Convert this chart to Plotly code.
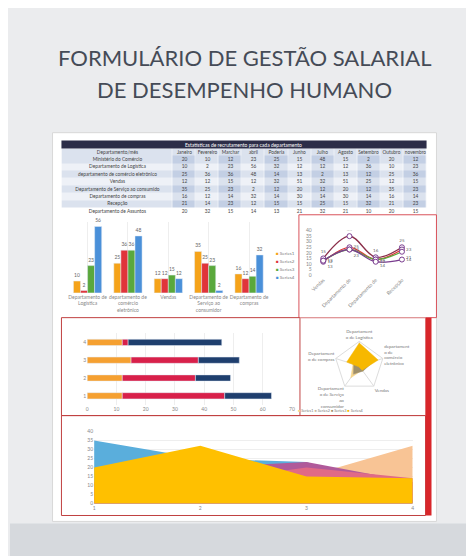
import plotly.graph_objects as go

W, H = 474, 556

def fx(px):
    return px / W

def fy(py):
    return 1 - py / H

# ---------------- data ----------------
months = ["Janeiro", "Fevereiro", "Marchar", "abril", "Poderia", "Junho", "Julho",
          "Agosto", "Setembro", "Outubro", "novembro"]
departments = ["Ministério do Comércio", "Departamento de Logística",
               "departamento de comércio eletrônico", "Vendas",
               "Departamento de Serviço ao consumido", "Departamento de compras",
               "Recepção", "Departamento de Assuntos"]
table_values = [
    [20, 10, 12, 23, 25, 15, 48, 15, 2, 20, 12],
    [10, 2, 23, 56, 32, 12, 12, 12, 36, 10, 23],
    [25, 36, 36, 48, 14, 13, 2, 13, 12, 25, 36],
    [12, 12, 15, 12, 32, 51, 32, 51, 25, 12, 15],
    [35, 25, 23, 2, 12, 20, 12, 20, 12, 35, 23],
    [16, 12, 14, 32, 14, 30, 14, 30, 14, 16, 14],
    [21, 14, 23, 12, 15, 15, 25, 15, 32, 21, 23],
    [20, 32, 15, 14, 13, 21, 32, 21, 10, 20, 15],
]

bar_cats = ["Departamento de<br>Logística", "departamento de<br>comércio<br>eletrônico",
            "Vendas", "Departamento de<br>Serviço ao<br>consumidor", "Departamento de<br>compras"]
bar_series = {
    "Series1": [10, 25, 12, 35, 16],
    "Series2": [2, 36, 12, 25, 12],
    "Series3": [23, 36, 15, 23, 14],
    "Series4": [56, 48, 12, 2, 32],
}
bar_colors = ["#f5a31a", "#e0343a", "#5aa83c", "#4a90d9"]

line_cats = ["Vendas", "Departamento de", "Departamento de", "Recepção"]
line_series = [
    ([15, 35, 16, 25], "#8b2f4a", "top center"),
    ([12, 25, 14, 23], "#e0343a", "middle right"),
    ([13, 23, 14, 21], "#5aa83c", "bottom right"),
    ([13, 23, 12, 14], "#7a3d8f", "middle right"),
]

hbar_cats = ["1", "2", "3", "4"]
hbar_series = [
    ([12, 12, 15, 12], "#f5a031"),
    ([35, 25, 23, 2], "#d8204a"),
    ([16, 12, 14, 32], "#1f3f6e"),
]

radar_cats = ["Departament<br>o de Logística", "departament<br>o de<br>comércio<br>eletrônico",
              "Vendas", "Departament<br>o de Serviço<br>ao<br>consumidor", "Departament<br>o de compras"]
radar_series = [
    ("Series1", [10, 25, 12, 35, 16], "#f5d58a"),
    ("Series2", [2, 36, 12, 25, 12], "#c9b8a0"),
    ("Series3", [23, 36, 15, 23, 14], "#a0906a"),
    ("Series4", [56, 48, 12, 2, 32], "#f7b800"),
]

area_x = [1, 2, 3, 4]
area_series = [
    ([5, 15, 15, 32], "#f8c495"),
    ([35, 25, 23, 2], "#5aaedc"),
    ([10, 20, 23, 12], "#b05a9a"),
    ([12, 12, 20, 14], "#e06a86"),
    ([20, 32, 15, 14], "#ffc000"),
]

fig = go.Figure()
fnt = "Lato"
tick_font = dict(size=5, color="#888", family=fnt)

# ---------------- table as a heatmap (cell shading + text) ----------------
shaded = {1, 3, 5, 7, 9, 11}
col_edges = [0, 112] + [112 + 23.3 * (i + 1) for i in range(len(months))]
text_rows = [["Departamento/mês"] + months]
shade_rows = [[2] * 12]
for j, (d, r) in enumerate(zip(departments, table_values)):
    text_rows.append([d] + [str(v) for v in r])
    if j == len(departments) - 1:
        shade_rows.append([0] * 12)
    else:
        base_shade = 2 if j % 2 == 0 else 1
        shade_rows.append([3 if (c in shaded and j % 2 == 0) else
                           (2 if c in shaded else base_shade) for c in range(12)])
fig.add_trace(go.Heatmap(
    z=shade_rows, text=text_rows, texttemplate="%{text}",
    textfont=dict(size=4.8, color="#444", family=fnt),
    x=col_edges, y=list(range(len(text_rows) + 1)),
    colorscale=[[0, "white"], [1 / 3, "#eef1f7"], [2 / 3, "#dbe2ee"], [1, "#c3cfe4"]],
    zmin=0, zmax=3, showscale=False, hoverinfo="skip", xgap=0.5,
    xaxis="x5", yaxis="y5",
))

# ---------------- grouped bar ----------------
for (name, vals), col in zip(bar_series.items(), bar_colors):
    fig.add_trace(go.Bar(x=bar_cats, y=vals, name=name, marker_color=col,
                         text=vals, textposition="outside",
                         textfont=dict(size=5, color="#666"),
                         xaxis="x", yaxis="y", showlegend=False, cliponaxis=False))

# ---------------- line chart ----------------
for vals, col, pos in line_series:
    fig.add_trace(go.Scatter(x=list(range(4)), y=vals, mode="lines+markers+text",
                             line=dict(color=col, width=1.3, shape="spline"),
                             marker=dict(size=5, color="white", line=dict(color="#7a3d8f", width=1)),
                             text=vals, textposition=pos,
                             textfont=dict(size=4.5, color="#666"),
                             xaxis="x2", yaxis="y2", showlegend=False))

# ---------------- horizontal stacked (bases from cumulative sums) ----------------
base = [0] * len(hbar_cats)
for vals, col in hbar_series:
    fig.add_trace(go.Bar(y=hbar_cats, x=vals, base=list(base), orientation="h",
                         marker_color=col, offsetgroup="h", width=0.35,
                         xaxis="x3", yaxis="y3", showlegend=False))
    base = [b + v for b, v in zip(base, vals)]

# ---------------- radar ----------------
for name, vals, col in radar_series:
    fig.add_trace(go.Scatterpolar(r=vals + vals[:1], theta=radar_cats + radar_cats[:1],
                                  fill="toself", fillcolor=col, line=dict(color=col, width=0.5),
                                  mode="lines", name=name, subplot="polar", showlegend=False))

# ---------------- area ----------------
for vals, col in area_series:
    fig.add_trace(go.Scatter(x=area_x, y=vals, fill="tozeroy", mode="none",
                             fillcolor=col, xaxis="x4", yaxis="y4", showlegend=False))

grid = "#eeeeee"
fig.update_layout(
    width=W, height=H, margin=dict(l=0, r=0, t=0, b=0),
    paper_bgcolor="#ebecee", plot_bgcolor="white",
    barmode="group", bargap=0.3,
    font=dict(family=fnt),
    xaxis=dict(domain=[fx(58), fx(262)], anchor="y", tickfont=tick_font, showgrid=True,
               gridcolor=grid, tickangle=0),
    yaxis=dict(domain=[fy(285), fy(213)], anchor="x", range=[0, 60], showticklabels=False,
               showgrid=False),
    xaxis2=dict(domain=[fx(306), fx(412)], anchor="y2", tickmode="array",
                tickvals=list(range(4)), ticktext=line_cats, tickangle=-45,
                tickfont=tick_font, range=[-0.4, 3.6], showgrid=False),
    yaxis2=dict(domain=[fy(267), fy(222)], anchor="x2", range=[0, 40], dtick=5,
                tickfont=tick_font, showgrid=False),
    xaxis3=dict(domain=[fx(78), fx(285)], anchor="y3", range=[0, 70], dtick=10,
                tickfont=tick_font, showgrid=True, gridcolor=grid, zeroline=False),
    yaxis3=dict(domain=[fy(398), fy(326)], anchor="x3", tickfont=tick_font),
    xaxis4=dict(domain=[fx(85), fx(407)], anchor="y4", range=[1, 4], dtick=1,
                tickfont=tick_font, showgrid=False),
    yaxis4=dict(domain=[fy(498), fy(425)], anchor="x4", range=[0, 40], dtick=5,
                tickfont=tick_font, showgrid=True, gridcolor=grid),
    xaxis5=dict(domain=[fx(52), fx(421)], anchor="y5", visible=False,
                range=[0, col_edges[-1]]),
    yaxis5=dict(domain=[fy(206), fy(139)], anchor="x5", visible=False,
                range=[len(text_rows), 0]),
    polar=dict(domain=dict(x=[fx(328), fx(378)], y=[fy(385), fy(333)]),
               bgcolor="white",
               radialaxis=dict(visible=False, range=[0, 60]),
               angularaxis=dict(tickfont=dict(size=4.5, color="#777", family=fnt),
                                gridcolor="#ddd", linecolor="#ddd", rotation=90,
                                direction="clockwise", ticks=""),
               gridshape="linear"),
)

shapes = [
    dict(type="rect", xref="paper", yref="paper", x0=fx(43), x1=fx(431), y0=fy(516), y1=fy(123),
         fillcolor="white", line=dict(color="#d8d8d8", width=1), layer="below"),
    dict(type="rect", xref="paper", yref="paper", x0=0, x1=1, y0=0, y1=fy(518),
         fillcolor="#d6d9dd", line_width=0, layer="below"),
    dict(type="rect", xref="paper", yref="paper", x0=fx(52), x1=fx(421), y0=fy(139), y1=fy(131),
         fillcolor="#2c2d48", line_width=0),
    dict(type="rect", xref="paper", yref="paper", x0=fx(292), x1=fx(431), y0=fy(310), y1=fy(206),
         line=dict(color="#d9535b", width=1)),
    dict(type="rect", xref="paper", yref="paper", x0=fx(52), x1=fx(293), y0=fy(409), y1=fy(310),
         line=dict(color="#c04040", width=1)),
    dict(type="rect", xref="paper", yref="paper", x0=fx(293), x1=fx(420), y0=fy(409), y1=fy(310),
         line=dict(color="#e0a0a0", width=1)),
    dict(type="rect", xref="paper", yref="paper", x0=fx(52), x1=fx(420), y0=fy(510), y1=fy(409),
         line=dict(color="#c04040", width=1)),
    dict(type="rect", xref="paper", yref="paper", x0=fx(420), x1=fx(426), y0=fy(510), y1=fy(310),
         fillcolor="#d8262a", line_width=0),
]
fig.update_layout(shapes=shapes)

annots = [
    dict(text="FORMULÁRIO DE GESTÃO SALARIAL", x=0.5, y=fy(47), font=dict(size=22, color="#454b57")),
    dict(text="DE DESEMPENHO HUMANO", x=0.5, y=fy(79), font=dict(size=22, color="#454b57")),
    dict(text="Estatísticas de recrutamento para cada departamento", x=fx(236), y=fy(135),
         font=dict(size=5, color="white")),
]
for i, (name, col) in enumerate(zip(bar_series.keys(), bar_colors)):
    annots.append(dict(text=f"<span style='color:{col}'>■</span> {name}", x=fx(267), y=fy(245 + i * 8),
                       xanchor="left", font=dict(size=4.5, color="#777")))
leg = " ".join(f"<span style='color:{c}'>■</span> {n}" for n, _, c in radar_series)
annots.append(dict(text=leg, x=fx(360), y=fy(404), font=dict(size=3.8, color="#777")))
for a in annots:
    a.update(xref="paper", yref="paper", showarrow=False, yanchor="middle")
    a["font"]["family"] = fnt
fig.update_layout(annotations=annots)

fig.write_html("out.html")
